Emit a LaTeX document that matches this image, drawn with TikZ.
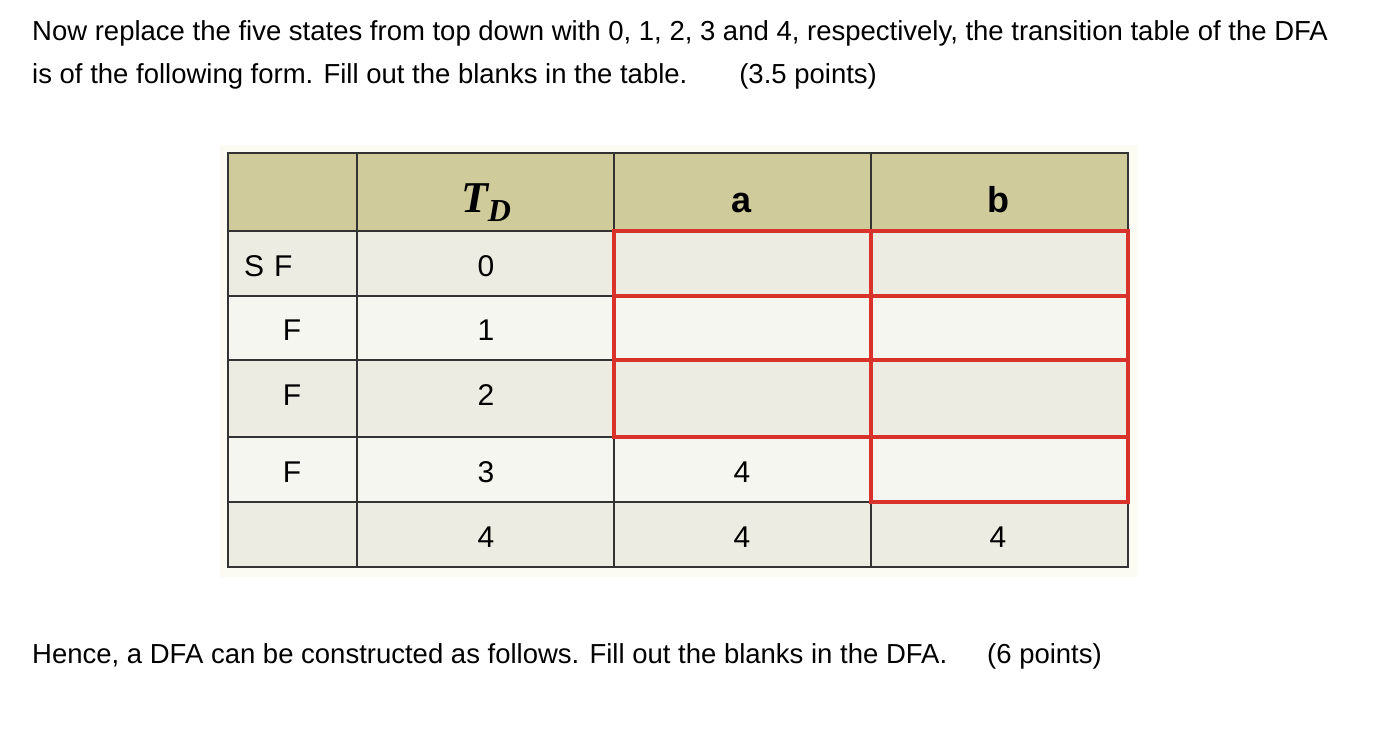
\documentclass[tikz,border=0pt]{standalone}
\usepackage{fontspec}
\setmainfont{Liberation Sans}
\newfontfamily\serifx{Liberation Serif}
\definecolor{hdr}{HTML}{CFCB9B}
\definecolor{rowA}{HTML}{ECECE2}
\definecolor{rowB}{HTML}{F6F6F0}
\definecolor{bgc}{HTML}{FBFBF3}
\definecolor{redc}{HTML}{D8322A}
\definecolor{gridc}{HTML}{333333}
\begin{document}
\begin{tikzpicture}[x=1pt,y=-1pt,
  txt/.style={anchor=base west,inner sep=0pt,font=\fontsize{27.5}{32}\selectfont},
  cell/.style={inner sep=0pt,anchor=base,font=\fontsize{30}{34}\selectfont},
  redbox/.style={draw=redc,line width=3.4pt}]
\useasboundingbox (0,0) rectangle (1382,742);
\fill[white] (0,0) rectangle (1382,742);
\node[txt] (l1) at (32,40) {Now replace the five states from top down with 0, 1, 2, 3 and 4, respectively, the transition table of the DFA};
\node[txt] (l2) at (32,83) {is of the following form. Fill out the blanks in the table.\hspace{52pt}(3.5 points)};
\node[txt] (l3) at (32,663) {Hence, a DFA can be constructed as follows. Fill out the blanks in the DFA.\hspace{40pt}(6 points)};
\fill[bgc] (220,145) rectangle (1138,577);
\fill[hdr] (228,153) rectangle (1128,231);
\fill[rowA] (228,231) rectangle (1128,296);
\fill[rowB] (228,296) rectangle (1128,360);
\fill[rowA] (228,360) rectangle (1128,437);
\fill[rowB] (228,437) rectangle (1128,502);
\fill[rowA] (228,502) rectangle (1128,567);
\draw[gridc,line width=1.5pt] (228,153) rectangle (1128,567);
\foreach \x in {357,614,871} \draw[gridc,line width=1.3pt] (\x,153) -- (\x,567);
\foreach \y in {231,296,360,437,502} \draw[gridc,line width=1.3pt] (228,\y) -- (1128,\y);
\draw[redbox] (614,231) rectangle (871,296);
\draw[redbox] (614,296) rectangle (871,360);
\draw[redbox] (614,360) rectangle (871,437);
\draw[redbox] (871,231) rectangle (1128,296);
\draw[redbox] (871,296) rectangle (1128,360);
\draw[redbox] (871,360) rectangle (1128,437);
\draw[redbox] (871,437) rectangle (1128,502);
\node[inner sep=0pt,anchor=base] (td) at (486,212) {\serifx\bfseries\itshape\fontsize{44}{48}\selectfont T\raisebox{-9pt}{\fontsize{32}{36}\selectfont D}};
\node[inner sep=0pt,anchor=base,font=\bfseries\fontsize{36}{40}\selectfont] (ha) at (742,212) {a};
\node[inner sep=0pt,anchor=base,font=\bfseries\fontsize{36}{40}\selectfont] (hb) at (998,212) {b};
\node[cell,anchor=base west] (s0) at (244,276) {S\,\,F};
\node[cell] (f1) at (292,340) {F};
\node[cell] (f2) at (292,405) {F};
\node[cell] (f3) at (292,482) {F};
\node[cell] (n0) at (486,276) {0};
\node[cell] (n1) at (486,340) {1};
\node[cell] (n2) at (486,405) {2};
\node[cell] (n3) at (486,482) {3};
\node[cell] (n4) at (486,547) {4};
\node[cell] (a3) at (742,482) {4};
\node[cell] (a4) at (742,547) {4};
\node[cell] (b4) at (998,547) {4};
\end{tikzpicture}
\end{document}
